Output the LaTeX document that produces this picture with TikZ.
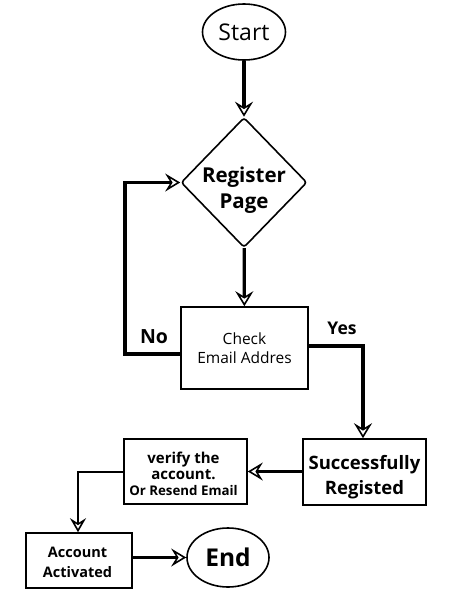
\documentclass[tikz,border=0pt]{standalone}
\usepackage{fontspec}
\setmainfont{Open Sans}
\usetikzlibrary{shapes.geometric,arrows.meta}
\begin{document}
\begin{tikzpicture}[x=1pt,y=-1pt,
  box/.style={draw,line width=1.6pt,rectangle,inner sep=0pt,align=center},
  term/.style={draw,line width=1.6pt,ellipse,inner sep=0pt,align=center},
  txt/.style={inner sep=0pt,align=center},
  flow/.style={line width=3.2pt,-{Stealth[open,length=15pt,width=18pt,inset=5.5pt,line width=1.6pt]}},
  thinflow/.style={line width=1.8pt,-{Stealth[open,length=14pt,width=16pt,inset=5pt,line width=1.6pt]}},
  lbl/.style={font=\fontsize{19.5}{22}\selectfont\bfseries}]
\useasboundingbox (0,0) rectangle (474,598);
\node[term,minimum width=83pt,minimum height=56pt,font=\fontsize{23}{27}\selectfont] (start) at (244,32) {Start};
\node[draw,line width=1.6pt,diamond,inner sep=0pt,minimum width=126pt,minimum height=130pt,rounded corners=3pt] (reg) at (244,182.5) {};
\node[txt,font=\fontsize{20.5}{26}\selectfont\bfseries] (regtxt) at (244,190) {Register\\Page};
\node[box,minimum width=127pt,minimum height=82pt] (check) at (244.5,348) {};
\node[txt,font=\fontsize{15.5}{19}\selectfont] (checktxt) at (244.5,348) {Check\\Email Addres};
\node[box,minimum width=123pt,minimum height=66pt] (succ) at (364.5,472) {};
\node[txt,font=\fontsize{18.5}{25}\selectfont\bfseries] (succtxt) at (364.5,477) {Successfully\\Registed};
\node[box,minimum width=123pt,minimum height=65pt] (verify) at (185.5,471.5) {};
\node[txt,font=\fontsize{15}{16}\selectfont\bfseries] (verifytxt) at (183.5,474) {verify the\\account.\\{\fontsize{13.3}{17}\selectfont Or Resend Email}};
\node[box,minimum width=106pt,minimum height=55pt] (acct) at (79,560.5) {};
\node[txt,font=\fontsize{14.5}{20}\selectfont\bfseries] (accttxt) at (77.5,562) {Account\\Activated};
\node[term,minimum width=82pt,minimum height=59pt,font=\fontsize{24.5}{28}\selectfont\bfseries] (end) at (228,557.5) {End};
\coordinate (nol) at (125,354);
\coordinate (yesr) at (363,346);
\coordinate (vl) at (78,472);
\draw[flow] (start) -- (reg);
\draw[flow] (reg) -- (check);
\draw[flow] (check.west |- nol) -- (nol) |- (reg.west);
\draw[flow] (check.east |- yesr) -| (succ.north -| yesr);
\draw[flow] (succ.west |- verify.east) -- (verify.east);
\draw[thinflow] (verify.west |- vl) -| (acct.north -| vl);
\draw[flow] (acct.east |- end.west) -- (end.west);
\node[lbl] (no) at (154,337) {No};
\node[lbl,font=\fontsize{17.5}{20}\selectfont\bfseries] (yes) at (342,328) {Yes};
\end{tikzpicture}
\end{document}
